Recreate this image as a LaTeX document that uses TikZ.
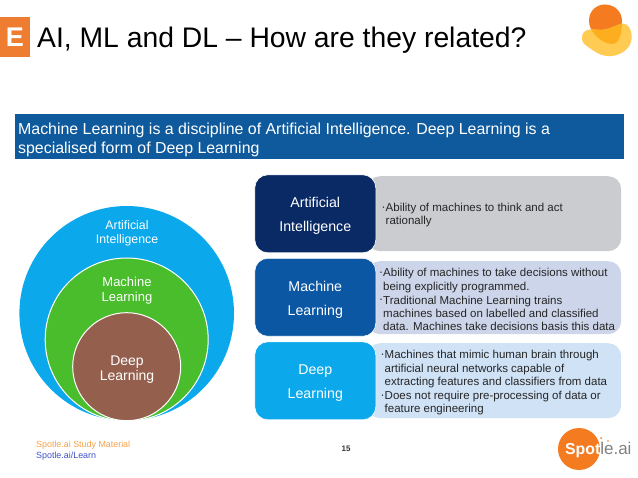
\documentclass[tikz,border=0pt]{standalone}
\usepackage{fontspec}
\setmainfont{Liberation Sans}
\definecolor{orangeE}{HTML}{EE7D31}
\definecolor{bannerblue}{HTML}{0F5A9C}
\definecolor{navyA}{HTML}{0A2A66}
\definecolor{blueM}{HTML}{0B57A4}
\definecolor{cyanD}{HTML}{0BA9EC}
\definecolor{grayA}{HTML}{CBCCD0}
\definecolor{lilacM}{HTML}{CDD5EA}
\definecolor{paleD}{HTML}{CFE2F6}
\definecolor{greenC}{HTML}{4ABD2C}
\definecolor{brownC}{HTML}{955F4E}
\definecolor{logoO}{HTML}{F47B20}
\definecolor{logoY}{HTML}{FFCB52}
\definecolor{logoA}{HTML}{FDAE1E}
\definecolor{sourceO}{HTML}{F5A04A}
\definecolor{sourceB}{HTML}{3F51C8}
\newcommand{\bul}{\raisebox{2.2pt}{\makebox[3pt][l]{\fontsize{5.5}{5.5}\selectfont •}}}
\newcommand{\logodrop}{(589,21) .. controls (589,10) and (597,4.5) .. (605,4.5) .. controls (615,4.5) and (622,12) .. (622,21) .. controls (622,32) and (620,44) .. (612,44) .. controls (604,44) and (589,34) .. (589,21) -- cycle}
\newcommand{\logoblob}{(582,38) .. controls (582,28) and (592,29) .. (600,30) .. controls (608,30) and (616,25) .. (622,23.5) .. controls (630,23) and (633,34) .. (631,42) .. controls (628,52) and (616,57) .. (607,56) .. controls (598,55) and (593,50) .. (588,47) .. controls (585,45) and (582,43) .. (582,38) -- cycle}
\tikzset{
  headbox/.style={draw=white,line width=.6pt,rounded corners=13pt,minimum width=121pt,minimum height=78pt,
    align=center,text=white,font=\fontsize{14.2}{24}\selectfont,anchor=north west,inner sep=0pt},
  textbox/.style={rounded corners=13pt,minimum width=254pt,anchor=north west,inner sep=0pt},
  bodytext/.style={align=left,font=\fontsize{11.5}{13.1}\selectfont,text=black!85,anchor=west,inner sep=0pt},
  ring/.style={circle,draw=white,line width=1pt,inner sep=0pt},
  ringtext/.style={align=center,text=white,font=\fontsize{13}{15}\selectfont,inner sep=0pt},
}
\begin{document}
\begin{tikzpicture}[x=1pt,y=-1pt]
\useasboundingbox (0,0) rectangle (638,478);
\node[fill=orangeE,text=white,minimum width=30pt,minimum height=40pt,inner sep=0pt,font=\bfseries\fontsize{27}{27}\selectfont] (badge) at (15,37) {E};
\node[anchor=base west,inner sep=0pt,font=\fontsize{28.3}{30}\selectfont] (title) at (37,48) {AI, ML and DL -- How are they related?};
\fill[logoO] \logodrop;
\fill[logoY] \logoblob;
\begin{scope}
\clip \logodrop;
\fill[logoA] \logoblob;
\end{scope}

\node[fill=bannerblue,text=white,minimum width=609pt,minimum height=45pt,anchor=north west,inner sep=0pt] (banner) at (15,114) {};
\node[anchor=north west,text=white,align=left,inner sep=0pt,font=\fontsize{15.9}{19.5}\selectfont] (bannertext) at (18,122.5) {Machine Learning is a discipline of Artificial Intelligence. Deep Learning is a\\specialised form of Deep Learning};

\node[ring,draw=none,fill=cyanD,minimum size=214.6pt] (aicircle) at (126.7,313.3) {};
\node[ring,fill=greenC,minimum size=163pt] (mlcircle) at (126.7,339.5) {};
\node[ring,fill=brownC,minimum size=108pt] (dlcircle) at (126.7,366.7) {};
\node[ringtext,font=\fontsize{12.3}{13.5}\selectfont] (ailabel) at (127,233.5) {Artificial\\Intelligence};
\node[ringtext] (mllabel) at (127,291) {Machine\\Learning};
\node[ringtext,font=\fontsize{14}{15.5}\selectfont] (dllabel) at (127,369.5) {Deep\\Learning};

\node[textbox,fill=grayA,minimum height=75pt] (aitext) at (367,176) {};
\node[textbox,fill=lilacM,minimum height=73pt] (mltext) at (367,261) {};
\node[textbox,fill=paleD,minimum height=75pt] (dltext) at (367,343) {};
\node[headbox,fill=navyA] (aihead) at (254.5,174.5) {\rule{0pt}{2pt}\\[-11pt]Artificial\\Intelligence};
\node[headbox,fill=blueM] (mlhead) at (254.5,258) {\rule{0pt}{2pt}\\[-11pt]Machine\\Learning};
\node[headbox,fill=cyanD] (dlhead) at (254.5,341.5) {\rule{0pt}{2pt}\\[-11pt]Deep\\Learning};

\node[bodytext] (aibody) at (382.5,215) {\bul Ability of machines to think and act\\\hspace*{3pt}rationally};
\node[bodytext] (mlbody) at (380,299.5) {\bul Ability of machines to take decisions without\\\hspace*{3pt}being explicitly programmed.\\[1pt]\bul Traditional Machine Learning trains\\\hspace*{3pt}machines based on labelled and classified\\\hspace*{3pt}data. Machines take decisions basis this data};
\node[bodytext] (dlbody) at (381.5,382.7) {\bul Machines that mimic human brain through\\\hspace*{3pt}artificial neural networks capable of\\\hspace*{3pt}extracting features and classifiers from data\\[1pt]\bul Does not require pre-processing of data or\\\hspace*{3pt}feature engineering};

\node[anchor=west,inner sep=0pt,align=left,font=\fontsize{8.9}{11}\selectfont] (source) at (36,450.5) {\textcolor{sourceO}{Spotle.ai Study Material}\\\textcolor{sourceB}{Spotle.ai/Learn}};
\node[inner sep=0pt,font=\bfseries\fontsize{8}{8}\selectfont,text=black!80] (pagenum) at (346,449) {15};
\node[circle,fill=logoO,minimum size=42pt,inner sep=0pt] (spotledot) at (579,449) {};
\node[anchor=base west,inner sep=0pt] (spotle) at (565,454.5) {\textcolor{white}{\bfseries\fontsize{15.8}{16}\selectfont Spot}\textcolor{black!50}{\fontsize{17}{16}\selectfont le.ai}};
\fill[logoO] (601,438) circle (1) (608,441) circle (.8);
\end{tikzpicture}
\end{document}
